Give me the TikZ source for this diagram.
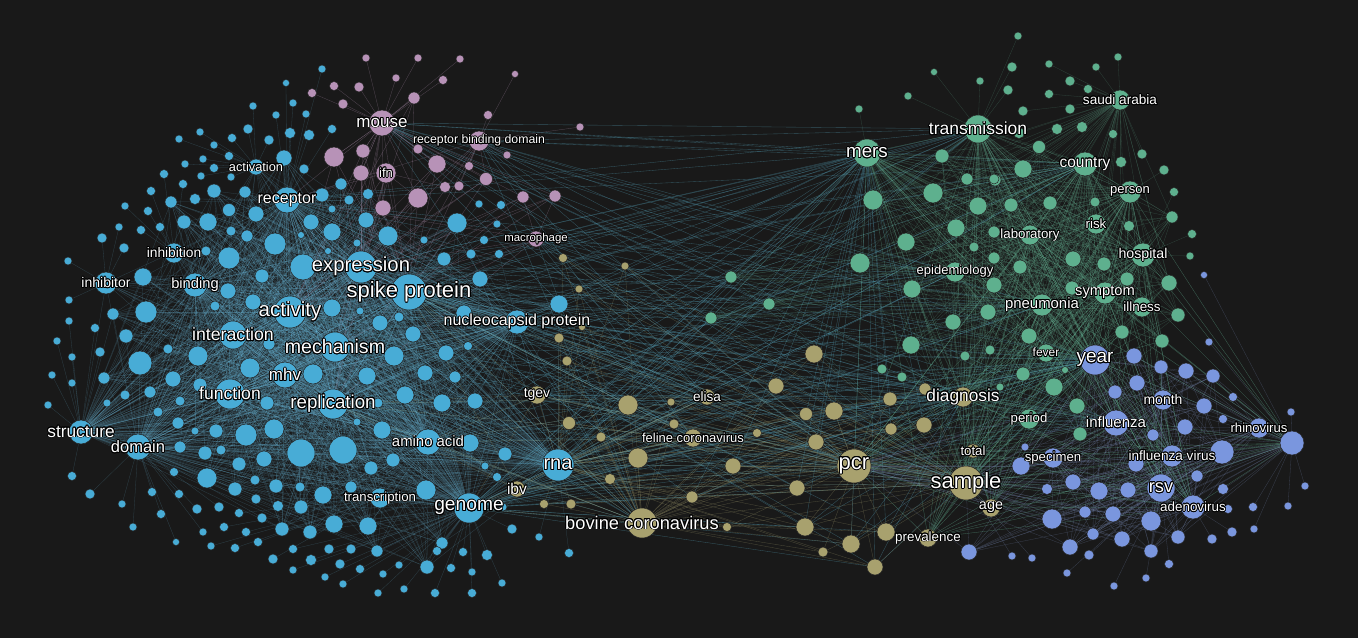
\documentclass[tikz,border=0pt]{standalone}
\usepackage{fontspec}
\setmainfont{Liberation Sans}
\usepackage[copies]{contour}
\contourlength{0.8pt}
\contournumber{16}
\pgfdeclarelayer{bg}
\pgfdeclarelayer{edges}
\pgfsetlayers{bg,edges,main}
\definecolor{bgc}{RGB}{25,25,25}
\definecolor{cb}{RGB}{72,172,214}
\definecolor{cp}{RGB}{183,146,183}
\definecolor{cg}{RGB}{94,176,142}
\definecolor{co}{RGB}{168,161,110}
\definecolor{cw}{RGB}{122,150,222}
\definecolor{ecb}{RGB}{110,190,225}
\definecolor{ecp}{RGB}{175,145,175}
\definecolor{ecx}{RGB}{80,150,172}
\definecolor{eco}{RGB}{165,160,112}
\definecolor{ecg}{RGB}{100,175,145}
\definecolor{ecw}{RGB}{135,155,205}
\tikzset{
  nd/.style={circle,draw=black!85,line width=0.5pt,inner sep=0pt,outer sep=0pt},
  nb/.style={nd,fill=cb},
  np/.style={nd,fill=cp},
  ng/.style={nd,fill=cg},
  no/.style={nd,fill=co},
  nw/.style={nd,fill=cw},
  lab/.style={text=white,inner sep=0pt,font=\fontsize{#1}{#1}\selectfont},
  eb/.style={draw=ecb,line width=0.3pt,opacity=0.24},
  ep/.style={draw=ecp,line width=0.3pt,opacity=0.38},
  ex/.style={draw=ecx,line width=0.35pt,opacity=0.48},
  eo/.style={draw=eco,line width=0.3pt,opacity=0.38},
  eg/.style={draw=ecg,line width=0.3pt,opacity=0.28},
  ew/.style={draw=ecw,line width=0.3pt,opacity=0.3}
}
\def\bhubs{spike,expression,activity,mechanism,replication,function,interaction,mhv,receptor,genome,rna,structure,domain,binding,aminoacid,nucleocapsid}
\def\bminor{inhibitor,inhibition,activation,transcription}
\def\ghubs{mers,transmission,saudi,country,person,risk,hospital,laboratory,pneumonia,symptom,illness,epidemiology,diagnosis,year,sample}
\def\whubs{year,influenza,influenzavirus,rsv,adenovirus,month,rhinovirus,wbig,wbig2,specimen,sample,pcr}
\def\lhubs{spike,expression,rna,genome,nucleocapsid,aminoacid,replication,activity,mechanism,mouse,rbd,macrophage,receptor,tgev,ibv}
\def\rhubs{pcr,sample,mers,transmission,diagnosis,year,influenza,elisa,feline,bovine,epidemiology,pneumonia,country}
\def\rmesh{pcr,sample,diagnosis,year,mers,transmission,country,hospital,pneumonia,symptom,influenza,rsv,laboratory,person,adenovirus,influenzavirus,wbig,total,age,prevalence}
\begin{document}
\begin{tikzpicture}[x=1pt,y=-1pt]
\begin{pgfonlayer}{bg}
\fill[bgc] (0,0) rectangle (1358,638);
\end{pgfonlayer}
% ---------- labelled nodes
\foreach \n/\x/\y/\s in {activation/256/167/16, receptor/287/200/26, inhibition/174/253/20, inhibitor/106/283/22, binding/195/285/24, expression/361/267/32, spike/409/292/36, activity/290/312/32, interaction/233/335/28, mechanism/335/347/30, mhv/285/375/26, function/230/394/30, replication/333/404/30, structure/81/432/24, domain/138/447/26, aminoacid/428/442/26, transcription/380/498/20, genome/469/508/30, rna/558/465/32, nucleocapsid/517/322/24}
  \node[nb,minimum size=\s] (\n) at (\x,\y) {};
\foreach \n/\x/\y/\s in {mouse/382/123/26, rbd/479/141/20, ifn/386/173/20, macrophage/536/239/16}
  \node[np,minimum size=\s] (\n) at (\x,\y) {};
\foreach \n/\x/\y/\s in {tgev/537/395/18, ibv/517/489/16, bovine/642/523/30, elisa/707/397/16, feline/693/438/18, pcr/854/466/34, sample/966/483/34, diagnosis/963/397/20, total/973/451/14, age/991/508/18, prevalence/928/538/18}
  \node[no,minimum size=\s] (\n) at (\x,\y) {};
\foreach \n/\x/\y/\s in {mers/867/153/28, transmission/978/129/28, saudi/1120/100/20, country/1085/164/24, person/1130/192/22, risk/1096/224/20, laboratory/1030/235/20, hospital/1143/255/24, epidemiology/955/272/20, symptom/1105/293/22, pneumonia/1042/305/22, illness/1142/307/20, fever/1046/353/18, period/1029/419/20}
  \node[ng,minimum size=\s] (\n) at (\x,\y) {};
\foreach \n/\x/\y/\s in {year/1095/360/30, month/1163/400/20, influenza/1116/423/26, rhinovirus/1259/428/20, specimen/1053/458/20, influenzavirus/1172/456/22, rsv/1161/488/28, adenovirus/1193/507/24, wbig/1292/443/24, wbig2/1222/452/24}
  \node[nw,minimum size=\s] (\n) at (\x,\y) {};
% ---------- blue inner nodes
\foreach \x/\y/\r [count=\i] in {284/158/8, 214/191/7, 245/192/6, 171/202/6, 322/195/7, 229/210/6.5, 256/214/8, 184/222/7, 208/222/9, 311/222/8, 332/232/9, 229/258/11, 275/244/11, 143/277/9, 228/291/8, 262/276/7, 303/267/13, 253/302/8, 332/308/9, 113/314/6, 146/312/11, 341/184/6, 366/220/8, 457/223/10, 388/236/10, 444/259/7, 480/279/8, 559/304/9, 464/313/8, 380/323/8, 126/336/7, 269/344/6, 198/356/10, 140/363/12, 250/368/10, 313/374/10, 104/378/6, 173/379/8, 200/385/7, 150/392/6, 267/403/7, 178/423/6, 216/431/7, 246/435/11, 274/429/10, 301/453/14, 343/450/14, 180/447/6, 205/453/7, 239/464/7, 264/459/8, 207/478/10, 235/489/7, 276/486/7, 323/495/9, 301/507/7, 334/524/9, 282/529/7, 310/532/7, 413/334/8, 394/356/10, 446/353/8, 367/376/9, 425/373/8, 455/377/6, 405/395/9, 442/403/9, 475/401/8, 382/430/9, 470/443/9, 505/454/7, 393/460/7, 371/468/7, 351/487/6, 426/490/10, 368/526/9, 377/551/6, 442/543/6, 427/567/7, 247/236/6, 468/346/4.5, 378/403/5, 357/422/4, 485/466/4, 497/477/4.5, 180/401/5, 158/412/5, 195/431/4, 221/450/5, 255/480/5, 300/487/5, 231/231/5, 206/251/5, 215/306/5, 399/317/5, 360/311/4, 168/349/5, 301/235/3.5, 328/251/3.5, 357/243/4, 349/200/5, 368/194/5.5}
  {\node[nb,minimum size=2*\r] (bi\i) at (\x,\y) {}; \xdef\nbi{\i}}
% ---------- blue outer nodes
\foreach \x/\y/\r/\h [count=\i] in {322/69/4/receptor, 286/83/3.5/receptor, 293/103/4/receptor, 253/106/4/activation, 276/115/4/receptor, 306/114/4/receptor, 332/129/4.5/receptor, 290/133/5.5/receptor, 309/135/5.5/receptor, 248/129/5/activation, 232/138/4.5/activation, 269/140/5/activation, 200/132/4/activation, 179/139/4/activation, 214/145/4/activation, 229/156/4.5/activation, 203/159/4/activation, 185/164/4/activation, 214/168/4.5/activation, 201/176/4/activation, 231/177/4/activation, 304/169/5/receptor, 164/174/4.5/inhibition, 183/184/4.5/inhibition, 151/191/4.5/inhibition, 195/199/5.5/receptor, 125/206/4/inhibition, 148/211/4.5/inhibition, 332/209/4/receptor, 119/227/4/inhibitor, 141/230/4.5/inhibition, 160/227/4.5/inhibition, 102/238/5/inhibitor, 124/248/5/inhibitor, 68/261/4/inhibitor, 69/300/4/inhibitor, 69/321/4/structure, 95/328/4.5/structure, 479/204/4/spike, 501/205/4.5/spike, 497/224/4/spike, 424/240/4/spike, 484/240/4.5/spike, 471/254/5/spike, 499/254/4.5/nucleocapsid, 57/341/4/structure, 100/352/5/structure, 52/375/4/structure, 72/357/4/structure, 72/383/4/structure, 125/395/5/structure, 48/405/4/structure, 107/403/4/structure, 174/472/4.5/domain, 72/476/4.5/structure, 90/494/5/domain, 152/492/4.5/domain, 179/494/4.5/domain, 122/504/4/domain, 161/514/4.5/domain, 197/509/5/domain, 219/507/5/domain, 239/513/4.5/transcription, 256/499/5/transcription, 262/518/5/transcription, 278/506/5.5/transcription, 133/527/4/domain, 203/532/4/domain, 224/527/4.5/transcription, 246/532/4.5/transcription, 176/542/3.5/domain, 211/546/4/transcription, 235/548/4.5/transcription, 258/542/4.5/transcription, 293/549/4.5/genome, 329/549/5/genome, 273/559/5/transcription, 311/560/5.5/genome, 293/570/4/genome, 325/577/4/genome, 503/507/4/genome, 512/529/5/genome, 539/537/4/rna, 351/549/5/genome, 437/551/4.5/genome, 463/552/4.5/genome, 487/555/5.5/genome, 569/553/4.5/rna, 340/564/5/genome, 360/569/4.5/genome, 399/565/4/genome, 451/568/4.5/genome, 472/572/4/genome, 383/574/4/genome, 343/584/4/genome, 502/583/4/genome, 404/589/4/genome, 378/593/4/genome, 435/593/4.5/genome, 472/593/4.5/genome}
  {\node[nb,minimum size=2*\r] (bo\i) at (\x,\y) {};
   \begin{pgfonlayer}{edges}\draw[eb] (bo\i) -- (\h);\end{pgfonlayer}}
% ---------- pink nodes
\foreach \x/\y/\r/\h [count=\i] in {312/93/4.5/mouse, 334/86/4.5/mouse, 366/58/4/mouse, 418/58/4/mouse, 460/59/4/mouse, 515/74/3.5/rbd, 396/78/4/mouse, 443/80/4.5/mouse, 359/87/5/mouse, 414/98/6/mouse, 343/104/5/mouse, 488/115/4.5/rbd, 580/127/4/rbd, 418/149/5/mouse, 507/155/4/rbd, 334/157/10/mouse, 363/151/7/mouse, 437/164/9/mouse, 469/166/4.5/rbd, 361/173/8/mouse, 486/179/6.5/rbd, 445/187/5.5/ifn, 459/186/5/rbd, 418/198/10/ifn, 523/197/6/macrophage, 555/196/6/macrophage, 383/208/8/ifn}
  {\node[np,minimum size=2*\r] (pp\i) at (\x,\y) {};
   \begin{pgfonlayer}{edges}\draw[ep] (pp\i) -- (\h);
   \ifdim\r pt>5.9pt \foreach \k in {spike,expression,activity,mouse} \draw[ep] (pp\i) -- (\k);\fi
   \end{pgfonlayer}}
% ---------- olive nodes
\foreach \x/\y/\r [count=\i] in {563/258/4.5, 625/266/4, 579/289/4, 582/327/3.5, 559/338/5, 567/361/5, 628/405/10, 569/423/6.5, 601/437/5, 638/458/10, 610/479/5.5, 544/504/4.5, 571/504/5, 671/402/4, 674/424/5, 757/433/4.5, 733/466/8, 692/497/6, 727/527/4.5, 814/354/9, 776/386/8, 806/414/6.5, 834/411/9, 816/442/8, 797/488/8, 805/527/9, 823/552/5, 851/544/9, 875/567/8, 886/532/9, 925/389/6, 890/399/7, 924/425/8, 891/429/6}
  {\node[no,minimum size=2*\r] (oo\i) at (\x,\y) {};
   \begin{pgfonlayer}{edges}
   \foreach \k in {pcr,sample,rna,bovine} \draw[eo] (oo\i) -- (\k);
   \ifdim\r pt>5.9pt \foreach \k in {spike,genome,diagnosis,year,mers} \draw[ex] (oo\i) -- (\k);\fi
   \end{pgfonlayer}}
% ---------- green nodes
\foreach \x/\y/\r [count=\i] in {942/156/7, 967/179/6, 933/193/10, 873/200/10, 978/206/9, 956/228/9, 994/232/6, 906/242/9, 860/263/10, 994/258/6, 994/285/8, 912/289/9, 731/277/6, 769/304/6, 711/318/6, 953/322/8, 988/312/8, 1039/147/6.5, 1023/169/9, 995/180/6, 1011/205/7, 1050/203/7, 1172/217/6, 1073/259/8, 1104/264/7, 1020/267/7, 1127/279/7, 1169/283/8, 1072/288/7, 1178/315/7, 911/345/9, 1029/336/8, 1122/332/7, 1162/341/7, 1023/374/7, 1054/387/9, 1077/406/8, 1080/434/7}
  {\node[ng,minimum size=2*\r] (gi\i) at (\x,\y) {}; \xdef\ngi{\i}}
\foreach \x/\y/\r/\h [count=\i] in {934/72/3.5/transmission, 980/81/4/transmission, 908/96/4/transmission, 859/109/4/mers, 1018/36/4/transmission, 1049/64/4/saudi, 1096/67/4/saudi, 1118/57/4/saudi, 1012/67/5/transmission, 1070/81/5/saudi, 1088/89/4.5/saudi, 1008/90/5/transmission, 1049/94/4.5/saudi, 1023/111/5/saudi, 1070/109/5/saudi, 1019/133/5.5/saudi, 1057/129/5.5/saudi, 1082/127/5.5/saudi, 1113/134/4.5/saudi, 1142/154/5/saudi, 1121/162/5.5/saudi, 1164/170/5/person, 1174/192/4.5/hospital, 994/179/5/transmission, 1095/202/5/country, 1129/226/5.5/person, 1192/234/4.5/hospital, 1190/256/4/hospital, 974/247/5/transmission, 990/350/5/pneumonia, 965/356/5/diagnosis, 882/369/5/diagnosis, 902/377/5/diagnosis, 1065/370/3.5/year, 1000/387/4/year}
  {\node[ng,minimum size=2*\r] (go\i) at (\x,\y) {};
   \begin{pgfonlayer}{edges}\draw[eg] (go\i) -- (\h);\end{pgfonlayer}}
% ---------- periwinkle nodes
\foreach \x/\y/\r [count=\i] in {1134/356/8, 1161/367/7, 1186/371/8, 1213/376/7, 1137/383/8, 1115/392/7, 1204/406/8, 1185/427/8, 1153/435/6, 1021/466/9, 1136/464/8, 1197/476/6, 1073/482/8, 1099/491/9, 1128/490/8, 1052/519/10, 1085/512/6, 1113/514/8, 1151/521/10, 1093/534/6, 1122/539/8, 1178/537/7, 1070/547/8, 1151/551/7, 969/552/8, 1047/489/5.5}
  {\node[nw,minimum size=2*\r] (wi\i) at (\x,\y) {}; \xdef\nwi{\i}}
\foreach \x/\y/\r/\h [count=\i] in {1204/275/3.5/wbig, 1209/342/4/wbig, 1233/397/4.5/wbig, 1223/419/4.5/wbig, 1291/412/4/wbig, 1025/447/4/year, 1223/489/5.5/wbig, 1305/486/4/wbig, 1228/509/4.5/adenovirus, 1253/507/4.5/wbig, 1288/506/4/wbig, 1212/539/5/adenovirus, 1232/532/5/adenovirus, 1254/529/4/wbig, 1089/555/5/rsv, 1012/556/4/sample, 1032/558/4/sample, 1169/564/4.5/rsv, 1067/573/4/rsv, 1146/578/4/rsv, 1114/586/4/rsv}
  {\node[nw,minimum size=2*\r] (wo\i) at (\x,\y) {};
   \begin{pgfonlayer}{edges}\draw[ew] (wo\i) -- (\h);\end{pgfonlayer}}
% ---------- edges
\begin{pgfonlayer}{edges}
\foreach \i in {1,...,\nbi} {\foreach \h in \bhubs {\draw[eb] (bi\i) -- (\h);}}
\foreach \a in \bhubs {\foreach \b in \bhubs {\draw[eb] (\a) -- (\b);}}
\foreach \a in \bminor {\foreach \b in \bhubs {\draw[eb] (\a) -- (\b);}}
\foreach \a in {mouse,ifn,rbd,macrophage} {\foreach \b in {spike,expression,activity,receptor,mechanism,replication} {\draw[ep] (\a) -- (\b);}}
\foreach \a in \lhubs {\foreach \b in \rhubs {\draw[ex] (\a) -- (\b);}}
\foreach \a in {tgev,ibv,bovine,elisa,feline} {\foreach \b in {spike,rna,genome,replication,aminoacid,pcr,sample} {\draw[eo] (\a) -- (\b);}}
\foreach \i in {1,...,\ngi} {\foreach \h in \ghubs {\draw[eg] (gi\i) -- (\h);}}
\foreach \a in {fever,period} {\foreach \b in \ghubs {\draw[eg] (\a) -- (\b);}}
\foreach \i in {1,...,\nwi} {\foreach \h in \whubs {\draw[ew] (wi\i) -- (\h);}}
\foreach \a in \rmesh {\foreach \b in \rmesh {\draw[eg] (\a) -- (\b);}}
\foreach \i in {13,14,15} {\foreach \h in {spike,rna,genome,expression,mouse} {\draw[ex] (gi\i) -- (\h);}}
\end{pgfonlayer}
% ---------- labels
\foreach \n/\f/\t in {spike/22/spike protein, expression/20.3/expression, activity/20.5/activity, mechanism/19.6/mechanism, replication/18.7/replication, function/17.6/function, interaction/17.7/interaction, mhv/17/mhv, receptor/16/receptor, inhibitor/14/inhibitor, inhibition/13.8/inhibition, binding/14.7/binding, activation/12.8/activation, structure/17.3/structure, domain/16.5/domain, aminoacid/14.9/amino acid, transcription/13.2/transcription, genome/19.2/genome, rna/20/rna, nucleocapsid/16/nucleocapsid protein, mouse/17/mouse, rbd/12.3/receptor binding domain, ifn/13/ifn, macrophage/11.4/macrophage, tgev/14/tgev, ibv/15.6/ibv, bovine/18.3/bovine coronavirus, elisa/13.6/elisa, feline/13/feline coronavirus, pcr/22/pcr, sample/22/sample, diagnosis/17.3/diagnosis, total/13.2/total, age/14.4/age, prevalence/13.4/prevalence, mers/18.8/mers, transmission/17.5/transmission, saudi/13.6/saudi arabia, country/15.5/country, person/13/person, risk/13.3/risk, laboratory/13.3/laboratory, hospital/14.2/hospital, epidemiology/13/epidemiology, symptom/14.7/symptom, pneumonia/14.9/pneumonia, illness/13.4/illness, fever/12/fever, period/13.2/period, year/19/year, month/14/month, influenza/15/influenza, rhinovirus/13.1/rhinovirus, specimen/13.2/specimen, influenzavirus/13.6/influenza virus, rsv/18.3/rsv, adenovirus/13.4/adenovirus}
  \node[lab=\f] (\n-l) at (\n) {\contour{black}{\t}};
\end{tikzpicture}
\end{document}
